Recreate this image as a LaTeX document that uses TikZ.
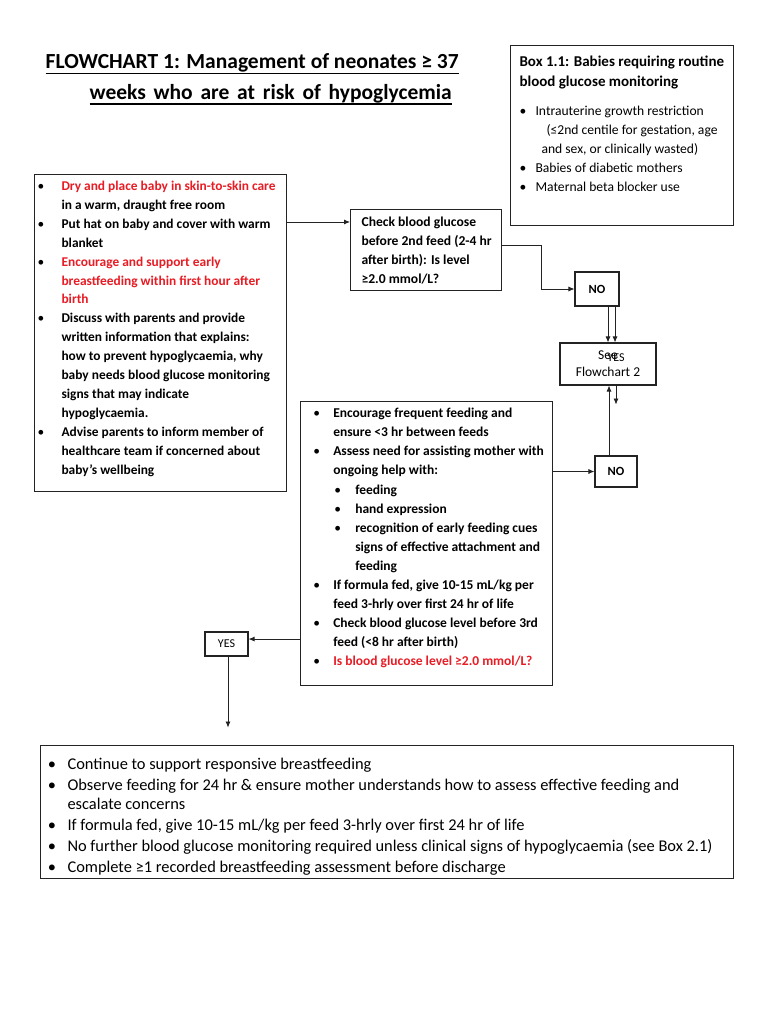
\documentclass[tikz,border=0pt]{standalone}
\usepackage{fontspec}
\setmainfont{Carlito}
\usetikzlibrary{arrows.meta,calc}
\definecolor{redtxt}{RGB}{232,28,36}
\definecolor{linec}{RGB}{35,35,35}
\newcommand{\itm}[3]{\par\hangindent=#2\hangafter=1\noindent\hspace*{#1}\makebox[\dimexpr#2-#1\relax][l]{\mdseries\color{black}\textbullet}\rule{0pt}{0.82em}#3\par}
\newcommand{\boxc}[5]{\parbox[t][#2][t]{#1}{\leftskip=#3\relax\rightskip=-30pt plus 1fil\relax\parindent=0pt\parskip=0pt\lineskiplimit=-50pt\hyphenpenalty=10000\vspace*{#4}#5}}
\tikzset{
  boxnode/.style={draw=linec, line width=1.1pt, inner sep=0pt, anchor=north west},
  smallbox/.style={draw=linec, line width=1.1pt, inner sep=0pt, align=center},
  arr/.style={draw=linec, line width=0.8pt, -{Latex[length=6pt,width=5pt]}},
  titletext/.style={inner sep=0pt, font=\fontsize{21.5}{26}\selectfont\bfseries}
}
\begin{document}
\begin{tikzpicture}[x=1pt,y=-1pt]
\fill[white] (0,0) rectangle (768,1024);
\useasboundingbox (0,0) rectangle (768,1024);

% title
\node[titletext, anchor=base west] (t1) at (45.5,69) {FLOWCHART 1: Management of neonates ≥ 37};
\node[titletext, anchor=base west] (t2) at (89.5,99.5) {\makebox[362pt][s]{weeks who are at risk of hypoglycemia}};
\draw[line width=1.4pt] ([yshift=-4.5pt]t1.base west) -- ([yshift=-4.5pt]t1.base east);
\draw[line width=1.4pt] ([yshift=-4.5pt]t2.base west) -- ([yshift=-4.5pt]t2.base east);

% Box 1.1
\node[boxnode] (box11) at (510,45) {\boxc{223pt}{180pt}{9pt}{8.2pt}{%
{\fontsize{15}{20}\selectfont\bfseries\rule{0pt}{0.82em}Box 1.1: Babies requiring routine\\blood glucose monitoring\par}
\vspace{10.7pt}
{\fontsize{13.6}{19}\selectfont
\itm{0pt}{16pt}{Intrauterine growth restriction\\\hspace*{11pt}(≤2nd centile for gestation, age\\\hspace*{6pt}and sex, or clinically wasted)}
\itm{0pt}{16pt}{Babies of diabetic mothers}
\itm{0pt}{16pt}{Maternal beta blocker use}}}};

% left box
\node[boxnode] (left) at (34,174) {\boxc{252pt}{317pt}{3pt}{5pt}{%
\fontsize{13.4}{18.9}\selectfont\bfseries
\itm{0pt}{24pt}{{\color{redtxt}Dry and place baby in skin-to-skin care}\\in a warm, draught free room}
\itm{0pt}{24pt}{Put hat on baby and cover with warm\\blanket}
\itm{0pt}{24pt}{{\color{redtxt}Encourage and support early\\breastfeeding within first hour after\\birth}}
\itm{0pt}{24pt}{Discuss with parents and provide\\written information that explains:\\how to prevent hypoglycaemia, why\\baby needs blood glucose monitoring\\signs that may indicate\\hypoglycaemia.}
\itm{0pt}{24pt}{Advise parents to inform member of\\healthcare team if concerned about\\baby’s wellbeing}}};

% check box
\node[boxnode] (check) at (350,209) {\boxc{151pt}{81pt}{11pt}{6pt}{%
\fontsize{13.6}{19}\selectfont\bfseries\rule{0pt}{0.82em}Check blood glucose\\before 2nd feed (2-4 hr\\after birth): Is level\\≥2.0 mmol/L?}};

% NO / See / YES
\node[smallbox, minimum width=44pt, minimum height=34pt, font=\fontsize{12.5}{15}\selectfont\bfseries] (no1) at (597,289) {NO};
\node[smallbox, minimum width=96pt, minimum height=42pt, font=\fontsize{13.5}{17}\selectfont] (see) at (608,364) {See\\Flowchart 2};
\node[inner sep=0pt, font=\fontsize{12}{14}\selectfont] (yesA) at (616,358) {YES};
\node[smallbox, minimum width=42pt, minimum height=31pt, font=\fontsize{12.5}{15}\selectfont\bfseries] (no2) at (616,471.5) {NO};

% middle box
\node[boxnode] (mid) at (300,401) {\boxc{252pt}{284pt}{12.7pt}{5.1pt}{%
\fontsize{13.5}{19.08}\selectfont\bfseries
\itm{0pt}{20pt}{Encourage frequent feeding and\\ensure <3 hr between feeds}
\itm{0pt}{20pt}{Assess need for assisting mother with\\ongoing help with:}
\itm{21pt}{42pt}{feeding}
\itm{21pt}{42pt}{hand expression}
\itm{21pt}{42pt}{recognition of early feeding cues\\signs of effective attachment and\\feeding}
\itm{0pt}{20pt}{If formula fed, give 10-15 mL/kg per\\feed 3-hrly over first 24 hr of life}
\itm{0pt}{20pt}{Check blood glucose level before 3rd\\feed (<8 hr after birth)}
\itm{0pt}{20pt}{{\color{redtxt}Is blood glucose level ≥2.0 mmol/L?}}}};

\node[smallbox, minimum width=43pt, minimum height=24pt, font=\fontsize{12}{14}\selectfont] (yes2) at (226.5,644) {YES};

% bottom box
\node[boxnode] (bottom) at (40,745) {\boxc{693pt}{133pt}{7.4pt}{7.9pt}{%
\fontsize{16.4}{19}\selectfont\parskip=2.2pt
\itm{0pt}{19.6pt}{Continue to support responsive breastfeeding}
\itm{0pt}{19.6pt}{Observe feeding for 24 hr \& ensure mother understands how to assess effective feeding and\\escalate concerns}
\itm{0pt}{19.6pt}{If formula fed, give 10-15 mL/kg per feed 3-hrly over first 24 hr of life}
\itm{0pt}{19.6pt}{No further blood glucose monitoring required unless clinical signs of hypoglycaemia (see Box 2.1)}
\itm{0pt}{19.6pt}{Complete ≥1 recorded breastfeeding assessment before discharge}}};

% connectors
\draw[arr] ($(left.north east)+(0,48)$) coordinate (c1) -- (c1 -| check.west);
\draw[arr] ($(check.east)+(0,-4.5)$) -- ++(39,0) |- (no1.west);
\draw[arr] ($(no1.south)+(11,0)$) coordinate (c2) -- (c2 |- see.north);
\draw[arr] ($(no1.south)+(18,0)$) coordinate (c3) -- (c3 |- see.north);
\draw[arr] ($(see.south)+(8,0)$) -- ++(0,19) coordinate (c4);
\draw[arr] ($(no2.north)+(-7,0)$) coordinate (c5) -- (c5 |- see.south);
\draw[arr] (no2.west -| mid.east) -- (no2.west);
\draw[arr] ($(mid.west)+(0,95.5)$) coordinate (c6) -- (c6 -| yes2.east);
\draw[arr] ($(yes2.south)+(1.5,0)$) -- ++(0,71) coordinate (c7);
\end{tikzpicture}
\end{document}
